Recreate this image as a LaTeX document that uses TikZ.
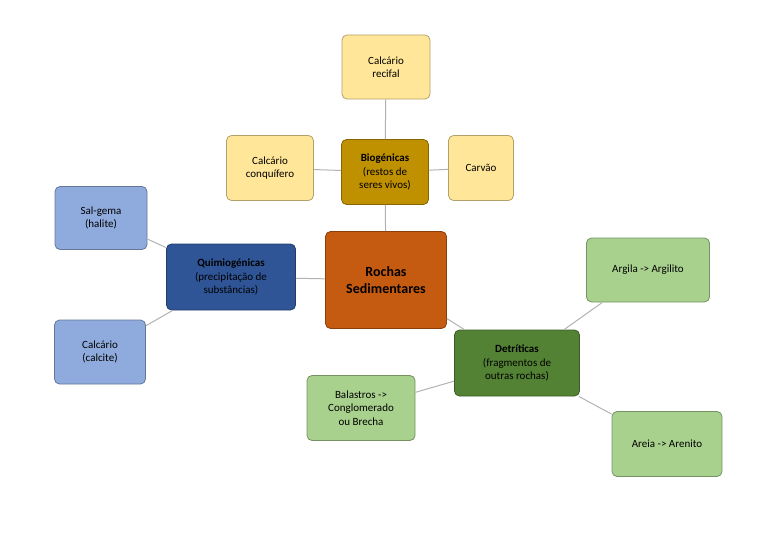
\documentclass[tikz,border=0pt]{standalone}
\usepackage{fontspec}
\setmainfont{Carlito}
\begin{document}
\begin{tikzpicture}[x=1pt,y=-1pt,
box/.style={draw=#1!70!black,line width=0.8pt,rounded corners=5pt,align=center,inner sep=2pt,font=\fontsize{11}{13.5}\selectfont},
con/.style={draw=gray!60,line width=1pt}]
\useasboundingbox (0,0) rectangle (768,543);
\definecolor{cor}{HTML}{C55A11}\definecolor{cgo}{HTML}{BF9000}\definecolor{cly}{HTML}{FFE699}
\definecolor{cbl}{HTML}{2F5597}\definecolor{clb}{HTML}{8FAADC}\definecolor{cgr}{HTML}{548235}\definecolor{clg}{HTML}{A9D18E}
\node[box=cor,fill=cor,minimum width=121,minimum height=97,font=\fontsize{14}{17}\selectfont\bfseries] (c) at (386,280) {Rochas\\Sedimentares};
\node[box=cgo,fill=cgo,minimum width=87,minimum height=65] (b) at (385,172) {\textbf{Biogénicas}\\(restos de\\seres vivos)};
\node[box=cly,fill=cly,minimum width=88,minimum height=64] (r) at (386,67) {Calcário\\recifal};
\node[box=cly,fill=cly,minimum width=87,minimum height=65] (q) at (270,168) {Calcário\\conquífero};
\node[box=cly,fill=cly,minimum width=65,minimum height=65] (cv) at (481,168) {Carvão};
\node[box=cbl,fill=cbl,minimum width=129,minimum height=66] (m) at (231,277) {\textbf{Quimiogénicas}\\(precipitação de\\substâncias)};
\node[box=clb,fill=clb,minimum width=92,minimum height=63] (s) at (101,218) {Sal-gema\\(halite)};
\node[box=clb,fill=clb,minimum width=91,minimum height=64] (k) at (100,352) {Calcário\\(calcite)};
\node[box=cgr,fill=cgr,minimum width=125,minimum height=66] (d) at (517,363) {\textbf{Detríticas}\\(fragmentos de\\outras rochas)};
\node[box=clg,fill=clg,minimum width=123,minimum height=64] (a) at (648,270) {Argila -> Argilito};
\node[box=clg,fill=clg,minimum width=108,minimum height=65] (bl) at (361,408) {Balastros ->\\Conglomerado\\ou Brecha};
\node[box=clg,fill=clg,minimum width=110,minimum height=65] (ar) at (667,444) {Areia -> Arenito};
\begin{scope}[on background layer/.try]
\end{scope}
\draw[con] (c) -- (b); \draw[con] (b) -- (r); \draw[con] (b) -- (q); \draw[con] (b) -- (cv);
\draw[con] (c) -- (m); \draw[con] (m) -- (s); \draw[con] (m) -- (k);
\draw[con] (c) -- (d); \draw[con] (d) -- (a); \draw[con] (d) -- (bl); \draw[con] (d) -- (ar);
\end{tikzpicture}
\end{document}
